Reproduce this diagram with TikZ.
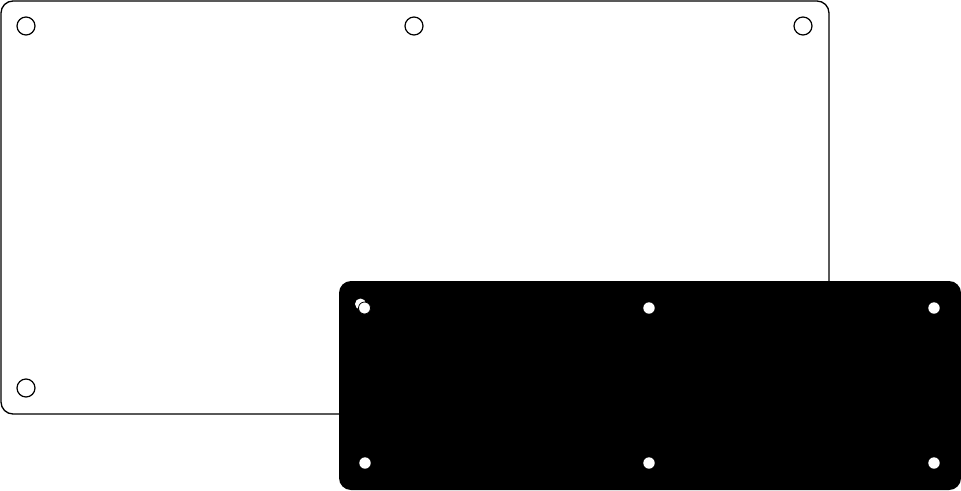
\documentclass[tikz,border=0pt]{standalone}
\begin{document}
\begin{tikzpicture}[x=1pt,y=-1pt,
  plate/.style={draw=black,line width=1.3pt,fill=white,rounded corners=12pt},
  hole/.style={draw=black,line width=1.2pt,fill=white},
  darkplate/.style={fill=black,rounded corners=12pt},
  dot/.style={fill=white}]
\useasboundingbox (0,0) rectangle (961,490);
\path[plate] (1,1) rectangle (829,414);
\foreach \n/\x/\y in {a/26/26,b/414/26,c/803/26,d/26/388}
  \draw[hole] (\x,\y) circle (9);
\path[darkplate] (339,281) rectangle (961,490);
\fill[white] (360.5,304) circle (5.5);
\draw[fill=white,draw=black,line width=0.8pt] (364.5,308) circle (6);
\foreach \x/\y in {649/308,934/308,365/463,649/463,934/463}
  \fill[dot] (\x,\y) circle (5.7);
\end{tikzpicture}
\end{document}
